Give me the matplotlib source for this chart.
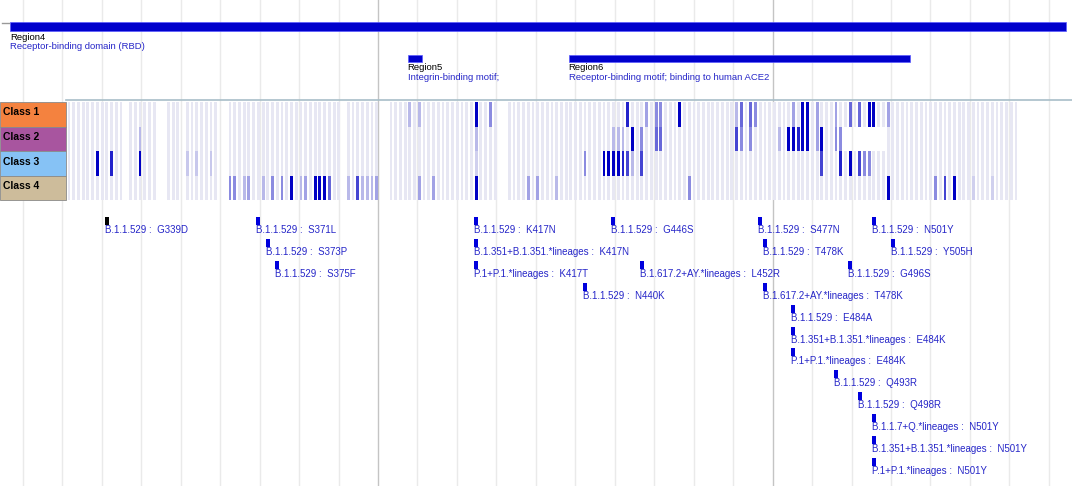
import matplotlib
matplotlib.use("Agg")
import matplotlib.pyplot as plt
import numpy as np
from matplotlib.colors import LinearSegmentedColormap
from matplotlib.patches import Rectangle

plt.rcParams['font.family'] = ['Liberation Sans', 'DejaVu Sans']

# spike RBD residue numbering
rbd_start, rbd_end = 319, 541
regions = [
    ("Region4", "Receptor-binding domain (RBD)", 319, 541),
    ("Region5", "Integrin-binding motif;", 403, 405),
    ("Region6", "Receptor-binding motif; binding to human ACE2", 437, 508),
]

classes = ["Class 1", "Class 2", "Class 3", "Class 4"]
class_colors = ["#f4823f", "#a8559f", "#86c2f5", "#cdbc9b"]

# heatmap: residues with data, default level 1, stronger levels up to 5
heat_first, heat_last = 331, 531
heat_missing = [343, 350, 351, 355, 363, 364, 389, 397, 398, 422, 423]
class1 = {403: 2, 405: 2, 417: 5, 420: 3, 449: 4.5, 453: 2.5, 455: 3, 456: 3,
          460: 5, 472: 2, 473: 3.5, 475: 3.5, 476: 3, 484: 2.5, 486: 5, 487: 5,
          489: 2.5, 493: 2.5, 496: 3.5, 498: 3.5, 500: 5, 501: 5, 504: 2.5}
class2 = {346: 2, 417: 2, 446: 2, 447: 2, 448: 2, 450: 5, 452: 3, 455: 3.5,
          456: 3.5, 472: 4, 473: 3, 475: 3, 481: 2, 483: 5, 484: 5, 485: 4.5,
          486: 5, 487: 5, 489: 2.5, 490: 5, 493: 3, 494: 3}
class3 = {337: 5, 340: 4.5, 346: 5, 356: 1.7, 358: 1.7, 361: 1.7, 417: 1.5,
          440: 3, 444: 5, 445: 5, 446: 5, 447: 5, 448: 4.5, 449: 4, 450: 2,
          452: 4, 490: 4, 494: 4.5, 496: 5, 498: 4, 499: 3, 500: 3}
class4 = {365: 3, 366: 3, 368: 2, 369: 2.5, 372: 2, 374: 3, 376: 3, 378: 5,
          380: 2, 381: 2.5, 383: 5, 384: 5, 385: 5, 386: 3.5, 390: 2, 392: 4,
          393: 2, 394: 2, 395: 2, 396: 2.5, 405: 2.5, 408: 2.5, 417: 5,
          428: 2.5, 430: 2.5, 434: 2, 462: 3, 504: 5, 514: 3, 516: 4, 518: 5,
          522: 1.5, 526: 1.5}
class2_missing = list(range(495, 504))

# variant mutations
mut_pos = [339, 371, 417, 446, 477, 501,
           373, 417, 478, 505,
           375, 417, 452, 496,
           440, 478,
           484, 484, 484, 493, 498, 501, 501, 501]
mut_lineage = ["B.1.1.529"] * 6 + \
    ["B.1.1.529", "B.1.351+B.1.351.*lineages", "B.1.1.529", "B.1.1.529"] + \
    ["B.1.1.529", "P.1+P.1.*lineages", "B.1.617.2+AY.*lineages", "B.1.1.529"] + \
    ["B.1.1.529", "B.1.617.2+AY.*lineages"] + \
    ["B.1.1.529", "B.1.351+B.1.351.*lineages", "P.1+P.1.*lineages",
     "B.1.1.529", "B.1.1.529", "B.1.1.7+Q.*lineages",
     "B.1.351+B.1.351.*lineages", "P.1+P.1.*lineages"]
mut_change = ["G339D", "S371L", "K417N", "G446S", "S477N", "N501Y",
              "S373P", "K417N", "T478K", "Y505H",
              "S375F", "K417T", "L452R", "G496S",
              "N440K", "T478K",
              "E484A", "E484K", "E484K", "Q493R", "Q498R", "N501Y", "N501Y", "N501Y"]
mut_row = [0] * 6 + [1] * 4 + [2] * 4 + [3] * 2 + [4, 5, 6, 7, 8, 9, 10, 11]

W, H = 1072, 486
px = 4.735  # pixels per residue
fig = plt.figure(figsize=(W / 100, H / 100), dpi=100)
ax = fig.add_axes([0, 0, 1, 1])
x0 = rbd_start - 10 / px
ax.set_xlim(x0, x0 + W / px)
ax.set_ylim(H, 0)
ax.axis('off')

# grid (every 25 nt, darker every 250 nt)
major0 = 396.72
for k in range(-10, 18):
    gx = major0 + k * 25 / 3
    ax.axvline(gx, color='#c4c4c4' if k % 10 == 0 else '#eaeaea', lw=1, zorder=0)

# annotation regions
fs = 7
blue_txt = '#2626c8'
ax.plot([x0 + 2 / px, x0 + 9 / px], [23, 23], color='#999999', lw=1)
for i, (name, desc, a, b) in enumerate(regions):
    top = 22.5 if i == 0 else 55
    hgt = 9 if i == 0 else 7.5
    ax.add_patch(Rectangle((a, top), b - a + 1, hgt, facecolor='#0000cc',
                           edgecolor='#5a5aff', lw=0.5, zorder=3))
    ax.text(a, top + hgt + 5.5, name, fontsize=6.8, color='black', va='center')
    ax.text(a, top + hgt + 15, desc, fontsize=6.8, color=blue_txt, va='center')

# heatmap
row_top, row_h = 102, 24.6
ax.plot([x0 + 66 / px, x0 + W / px], [100.5, 100.5], color='#a8bec8', lw=1.2, zorder=4)
cmap = LinearSegmentedColormap.from_list('epi', ['#e7e7f3', '#8c8ce0', '#0000c4'])
res_all = np.array([r for r in range(heat_first, heat_last + 1) if r not in heat_missing])
for i, (lab, col, lev) in enumerate(zip(classes, class_colors, [class1, class2, class3, class4])):
    top = row_top + i * row_h
    ax.add_patch(Rectangle((x0, top), 66 / px, row_h, facecolor=col,
                           edgecolor='#8a8a8a', lw=0.6, zorder=3))
    ax.text(x0 + 3 / px, top + row_h / 2 - 2, lab, fontsize=7.5, fontweight='bold',
            va='center', zorder=4)
    res = res_all if i != 1 else np.array([r for r in res_all if r not in class2_missing])
    vals = np.array([lev.get(r, 1) for r in res])
    ax.bar(res + 0.45, row_h, bottom=top, width=0.6, color=cmap((vals - 1) / 4),
           align='center', zorder=2)

# mutation track
for p, lin, ch, r in zip(mut_pos, mut_lineage, mut_change, mut_row):
    yt = 230 + r * 21.9
    mc = 'black' if ch == "G339D" else '#0000dd'
    ax.add_patch(Rectangle((p, yt - 13), 0.85, 8, facecolor=mc, edgecolor='none', zorder=3))
    ax.text(p, yt, lin + " :  " + ch, fontsize=fs, color=blue_txt, va='center', zorder=3)

fig.savefig("out.png", dpi=100)
